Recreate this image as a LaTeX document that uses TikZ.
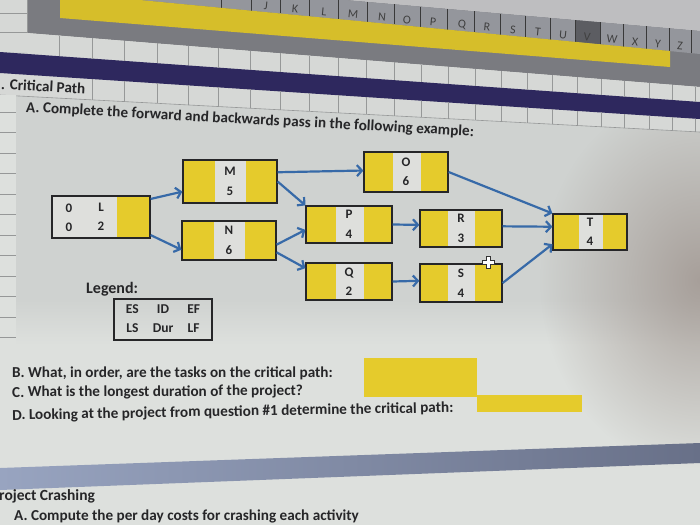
\documentclass[tikz,border=0pt]{standalone}
\usepackage{fontspec}
\setmainfont{Carlito}
\usetikzlibrary{calc,arrows.meta,fadings}

\definecolor{pagebg}{RGB}{207,210,208}
\definecolor{pagelight}{RGB}{221,224,221}
\definecolor{shadowcol}{RGB}{160,150,144}
\definecolor{cellbg}{RGB}{214,216,214}
\definecolor{gridcol}{RGB}{150,152,152}
\definecolor{darkband}{RGB}{122,123,128}
\definecolor{hdrgray}{RGB}{148,150,156}
\definecolor{hdrsel}{RGB}{92,93,98}
\definecolor{ribbon}{RGB}{190,190,192}
\definecolor{bandyellow}{RGB}{214,190,42}
\definecolor{navy}{RGB}{46,40,94}
\definecolor{cellyellow}{RGB}{229,203,44}
\definecolor{cellwhite}{RGB}{222,223,220}
\definecolor{arrowblue}{RGB}{55,106,168}
\definecolor{inktext}{RGB}{38,38,40}
\definecolor{bandleft}{RGB}{152,164,192}
\definecolor{bandright}{RGB}{104,112,136}

\tikzfading[name=shadowfade, inner color=transparent!15, outer color=transparent!100]

\tikzset{
  gridln/.style={draw=gridcol, line width=0.6pt},
  hdrsep/.style={draw=gray!45!black, line width=0.5pt},
  colhead/.style={font=\fontsize{12}{12}\selectfont, text=black!75, rotate=-5.5, inner sep=0pt},
  sheettext/.style={font=\bfseries\fontsize{15.2}{15.2}\selectfont, text=inktext, inner sep=0pt, anchor=west},
  act/.style={draw=inktext, line width=1.2pt, fill=cellyellow, inner sep=0pt, align=center,
    font=\bfseries\fontsize{13}{19.5}\selectfont, text=inktext,
    path picture={\fill[cellwhite]
      ($(path picture bounding box.south west)!0.345!(path picture bounding box.south east)$) rectangle
      ($(path picture bounding box.north west)!0.675!(path picture bounding box.north east)$);}},
  startact/.style={act, fill=cellwhite,
    path picture={\fill[cellyellow]
      ($(path picture bounding box.south west)!0.665!(path picture bounding box.south east)$) rectangle
      (path picture bounding box.north east);}},
  num/.style={font=\bfseries\fontsize{13}{13}\selectfont, text=inktext, inner sep=0pt},
  flow/.style={-{Straight Barb[length=5pt,width=11pt]}, draw=arrowblue, line width=2.2pt},
  answer/.style={fill=cellyellow, inner sep=0pt},
}

\begin{document}
\begin{tikzpicture}[x=1pt,y=-1pt]
  \useasboundingbox (0,0) rectangle (700,525);
  \clip (0,0) rectangle (700,525);
  % sheet
  \fill[pagebg] (0,0) rectangle (700,525);
  \shade[top color=pagebg, bottom color=pagelight] (0,300) rectangle (700,345);
  \fill[pagelight] (0,345) rectangle (700,525);
  \fill[shadowcol, path fading=shadowfade] (540,90) rectangle (860,470);

  % column headers and top bands
  \fill[darkband] (27,0) -- (700,0) -- (700,87) -- (27,33) -- cycle;
  \fill[ribbon] (345,0) -- (700,0) -- (700,31) -- cycle;
  \fill[hdrgray] (140,0) -- (345,0) -- (700,31) -- (700,54) -- cycle;
  \fill[hdrsel] (575,{(575-345)*0.0873}) -- (600,{(600-345)*0.0873})
    -- (600,{(600-140)*0.0964}) -- (575,{(575-140)*0.0964}) -- cycle;
  \foreach \x in {221,251,280,309,338,367,394,420,447,474,500,525,550,575,600,623,646,669,691}
    \draw[hdrsep] (\x,{(\x-345)*0.0873}) -- (\x,{(\x-140)*0.0964});
  \foreach \l/\x in {J/266,K/295,L/324,M/353,N/382,O/407,P/433,Q/462,R/487,S/513,T/538,U/563,V/587,W/612,X/635,Y/658,Z/680}
    \node[colhead] (col\l) at (\x,{(\x-140)*0.0964-6}) {\l};
  \fill[bandyellow] (60,0) -- (140,0) -- (670,51) -- (670,67) -- (60,18) -- cycle;

  % grid rows around the navy band
  \fill[cellbg] (0,0) rectangle (27,52);
  \draw[gridln] (0,13) -- (27,13) (0,32) -- (27,32) (27,0) -- (27,33);
  \fill[cellbg] (27,33) -- (700,87) -- (700,102) -- (27,54) -- cycle;
  \fill[cellbg] (0,73) -- (700,119) -- (700,132) -- (0,95) -- cycle;
  \fill[navy] (0,52) -- (700,102) -- (700,119) -- (0,73) -- cycle;
  \foreach \x in {59,92,124,157,188,218,250,280,309,338,366,394,421,448,475,501,527,552,577,601,624,649,672,695}
    \draw[gridln] (\x,{33+(\x-27)*0.0802}) -- (\x,{52+\x*0.0714});
  \foreach \x in {92,124,157,188,218,250,280,309,338,366,394,421,448,475,501,527,552,577,601,624,649,672,695}
    \draw[gridln] (\x,{73+\x*0.0657}) -- (\x,{95+\x*0.053});
  \draw[gridln] (0,95) -- (700,132);
  \fill[pagelight] (0,95) rectangle (16,345);
  \foreach \y in {112,132.5,...,340}
    \draw[gridln] (0,\y) -- (16,\y);

  % titles
  \node[sheettext, rotate=-3] (secTitle) at (1,84) {. Critical Path};
  \node[sheettext, rotate=-3.1] (partA) at (26,108) {A. Complete the forward and backwards pass in the following example:};

  % network
  \node[startact, minimum width=98pt, minimum height=42pt] (L) at (101,217) {L\\2};
  \node[num] (Les) at (69,208) {0};
  \node[num] (Lls) at (69,227) {0};
  \node[act, minimum width=94pt, minimum height=43pt] (M) at (230,181.5) {M\\5};
  \node[act, minimum width=94pt, minimum height=39pt] (N) at (229,240.5) {N\\6};
  \node[act, minimum width=84pt, minimum height=40pt] (O) at (406,172) {O\\6};
  \node[act, minimum width=86pt, minimum height=37pt] (P) at (349,224.5) {P\\4};
  \node[act, minimum width=86pt, minimum height=37pt] (Q) at (349,281.5) {Q\\2};
  \node[act, minimum width=82pt, minimum height=37pt] (R) at (461,228.5) {R\\3};
  \node[act, minimum width=82pt, minimum height=38pt] (S) at (461,283) {S\\4};
  \node[act, minimum width=74pt, minimum height=36pt] (T) at (590,232) {T\\4};

  \draw[flow] (L.20) -- (M.192);
  \draw[flow] (L.-20) -- (N.191);
  \draw[flow] (M.11) -- (O.178);
  \draw[flow] (M.east) -- (P.north west);
  \draw[flow] (N.-5) -- (P.187);
  \draw[flow] (N.-14) -- (Q.163);
  \draw[flow] (O.east) -- (T.north west);
  \draw[flow] (P.east) -- (R.175);
  \draw[flow] (R.3) -- (T.172);
  \draw[flow] (Q.east) -- (S.177);
  \draw[flow] (S.east) -- (T.198);

  % mouse cursor
  \draw[fill=white, draw=black!80, line width=0.6pt, shift={(488,262)}]
    (-2,-6) -- (2,-6) -- (2,-2) -- (6,-2) -- (6,2) -- (2,2) -- (2,6) -- (-2,6)
    -- (-2,2) -- (-6,2) -- (-6,-2) -- (-2,-2) -- cycle;

  % legend
  \node[sheettext, font=\bfseries\fontsize{16}{16}\selectfont] (legendTitle) at (86,289) {Legend:};
  \node[draw=inktext, line width=1.2pt, minimum width=98pt, minimum height=41pt, inner sep=0pt,
    font=\bfseries\fontsize{13.5}{19}\selectfont, text=inktext] (legendKey) at (163,319.5)
    {\begin{tabular}{@{}c@{\hspace{14pt}}c@{\hspace{14pt}}c@{}}ES & ID & EF\\ LS & Dur & LF\end{tabular}};

  % questions
  \node[sheettext] (qB) at (12,373) {B. What, in order, are the tasks on the critical path:};
  \node[sheettext, rotate=0.3] (qC) at (12,393) {C. What is the longest duration of the project?};
  \node[sheettext, rotate=1] (qD) at (12,416) {D. Looking at the project from question \#1 determine the critical path:};
  \node[answer, minimum width=113pt, minimum height=39pt] (ansB) at (420.5,377.5) {};
  \node[answer, minimum width=105pt, minimum height=17pt] (ansD) at (529.5,403.5) {};

  % next section
  \shade[left color=bandleft, right color=bandright] (0,468) -- (700,443) -- (700,463) -- (0,490) -- cycle;
  \node[sheettext, font=\bfseries\fontsize{15.5}{15.5}\selectfont] (crashTitle) at (-1,496) {roject Crashing};
  \node[sheettext] (partCrash) at (14,516) {A. Compute the per day costs for crashing each activity};
\end{tikzpicture}
\end{document}
